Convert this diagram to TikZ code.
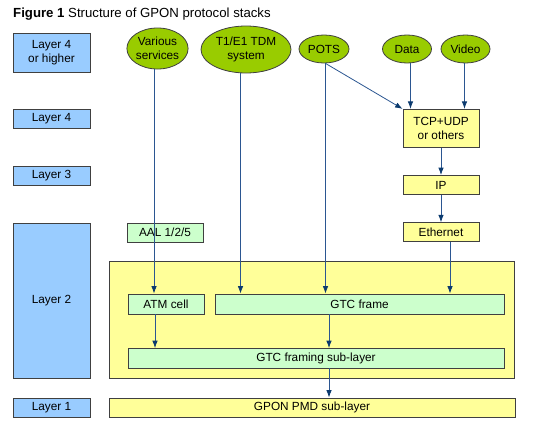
\documentclass[tikz,border=0pt]{standalone}
\usepackage{fontspec}
\setmainfont{Liberation Sans}
\usepackage{xcolor}
\definecolor{gpLayer}{HTML}{99CCFF}
\definecolor{gpSvc}{HTML}{99CC00}
\definecolor{gpYellow}{HTML}{FFFF99}
\definecolor{gpGreen}{HTML}{CCFFCC}
\definecolor{gpEdge}{HTML}{404040}
\definecolor{gpLine}{HTML}{2B5691}
\definecolor{gpTip}{HTML}{0B3A6E}
\usepackage{tikz}
\usetikzlibrary{arrows.meta,shapes.geometric}

\begin{document}
\begin{tikzpicture}[x=1pt, y=-1pt,
    font=\fontsize{11.8}{14}\selectfont,
    layerbox/.style={draw=gpEdge, fill=gpLayer, line width=0.8pt, inner sep=0pt, align=center},
    svc/.style={ellipse, draw=gpEdge, fill=gpSvc, line width=0.8pt, inner sep=0pt, align=center},
    ybox/.style={draw=gpEdge, fill=gpYellow, line width=0.8pt, inner sep=0pt, align=center},
    gbox/.style={draw=gpEdge, fill=gpGreen, line width=0.8pt, inner sep=0pt},
    link/.style={draw=gpLine, line width=0.8pt},
    arr/.style={link, -{Latex[length=7.5pt,width=5.5pt,color=gpTip]}}]
  \useasboundingbox (0,0) rectangle (540,423);
  % title
  \node[anchor=base west, inner sep=0pt, font=\fontsize{13.2}{15}\selectfont] (title) at (13,17.5)
    {\bfseries Figure 1\mdseries{} Structure of GPON protocol stacks};
  % layer column
  \node[layerbox, minimum width=77, minimum height=39] (l4h) at (51.5,52.5) {Layer 4\\or higher};
  \node[layerbox, minimum width=77, minimum height=19] (l4) at (51.5,118.5) {Layer 4};
  \node[layerbox, minimum width=77, minimum height=19] (l3) at (51.5,176) {Layer 3};
  \node[layerbox, minimum width=77, minimum height=155] (l2) at (51.5,300.5) {Layer 2};
  \node[layerbox, minimum width=77, minimum height=19] (l1) at (51.5,407.5) {Layer 1};
  % services
  \node[svc, minimum width=61, minimum height=41] (vs) at (157.5,48.5) {Various\\services};
  \node[svc, minimum width=90, minimum height=47] (tdm) at (246,49.5) {T1/E1 TDM\\system};
  \node[svc, minimum width=50, minimum height=28] (pots) at (324,49) {POTS};
  \node[svc, minimum width=49, minimum height=28] (data) at (407,49) {Data};
  \node[svc, minimum width=49, minimum height=28] (video) at (465.5,49) {Video};
  % IP stack
  \node[ybox, minimum width=76, minimum height=38] (tcp) at (441,128.3) {TCP+UDP\\or others};
  \node[ybox, minimum width=76, minimum height=19] (ip) at (441,185) {IP};
  \node[ybox, minimum width=76, minimum height=19] (eth) at (441,232.2) {Ethernet};
  \node[gbox, minimum width=76, minimum height=19] (aal) at (165,232.5) {AAL 1/2/5};
  % layer 2 area and PMD
  \node[ybox, minimum width=405, minimum height=117] (l2area) at (311.5,319.5) {};
  \node[ybox, minimum width=406, minimum height=19] (pmd) at (312,407.5) {GPON PMD sub-layer};
  \node[gbox, minimum width=76, minimum height=20] (atm) at (166,304) {ATM cell};
  \node[gbox, minimum width=289, minimum height=20] (gtc) at (359.5,304) {GTC frame};
  \node[gbox, minimum width=376, minimum height=19.5] (gtcf) at (316,358.3) {GTC framing sub-layer};
  % connectors
  \draw[arr] ([xshift=-3.5]vs.south) -- ([xshift=-3.5]vs.south |- atm.north);
  \draw[arr] ([xshift=-5.5]tdm.south) -- ([xshift=-5.5]tdm.south |- gtc.north);
  \draw[arr] ([xshift=1.5]pots.south) -- ([xshift=1.5]pots.south |- gtc.north);
  \draw[arr] ([xshift=1.5]pots.south) -- (tcp.north west);
  \draw[arr] ([xshift=3.5]data.south) -- ([xshift=3.5]data.south |- tcp.north);
  \draw[arr] ([xshift=-1]video.south) -- ([xshift=-1]video.south |- tcp.north);
  \draw[arr] (tcp) -- (ip);
  \draw[arr] (ip) -- (eth);
  \draw[arr] ([xshift=9]eth.south) -- ([xshift=9]eth.south |- gtc.north);
  \draw[arr] ([xshift=-11]atm.south) -- ([xshift=-11]atm.south |- gtcf.north);
  \draw[arr] ([xshift=-30.5]gtc.south) -- ([xshift=-30.5]gtc.south |- gtcf.north);
  \draw[arr] ([xshift=13]gtcf.south) -- ([xshift=13]gtcf.south |- pmd.north);
\end{tikzpicture}
\end{document}
